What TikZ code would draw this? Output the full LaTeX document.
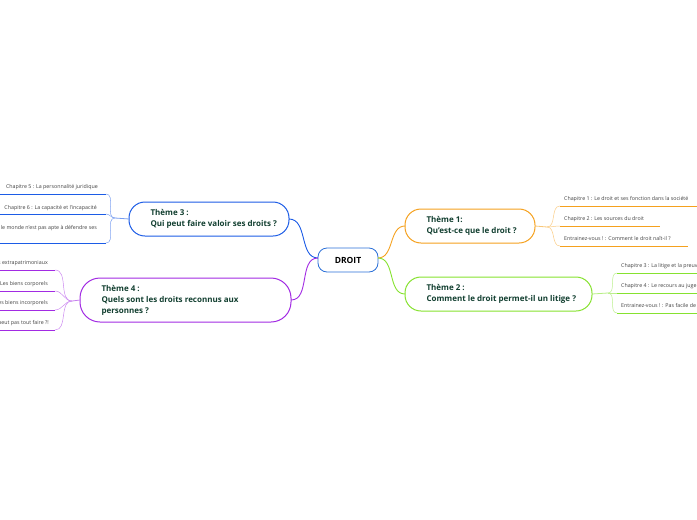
\documentclass[tikz,border=0pt]{standalone}
\usepackage{fontspec}
\setmainfont{Open Sans}
\begin{document}
\begin{tikzpicture}[x=1pt,y=-1pt,
  theme/.style={draw=#1,line width=1pt,rounded corners=16pt,fill=white,inner sep=0pt},
  ttext/.style={anchor=west,align=left,font=\fontsize{8}{11}\selectfont\bfseries,text=tdark},
  leaf/.style={anchor=west,font=\fontsize{5.3}{6}\selectfont,text=black!75,inner sep=0pt},
  lline/.style={draw=#1,line width=1pt},
  conn/.style={draw=#1,line width=0.9pt},
  thin/.style={draw=#1,line width=0.5pt}]
\definecolor{tdark}{HTML}{123F30}
\definecolor{cor}{HTML}{F5A11E}
\definecolor{cgr}{HTML}{86E22F}
\definecolor{cbl}{HTML}{1C5CE6}
\definecolor{cpu}{HTML}{A22BE3}
\definecolor{cdr}{HTML}{2A6FD8}
\useasboundingbox (0,0) rectangle (697,520);
\clip (0,0) rectangle (697,520);
% centre
\draw[theme=cdr,rounded corners=9pt,line width=0.8pt] (318,248) rectangle (378,272);
\node[font=\fontsize{8.5}{10}\selectfont\bfseries,text=black] (droit) at (348,260) {DROIT};
\coordinate (dl) at (318,258); \coordinate (dr) at (378,258);
% themes
\draw[theme=cor] (405,209) rectangle (535,243);
\node[ttext] (t1) at (423,226) {Thème 1:\\Qu'est-ce que le droit ?};
\draw[theme=cgr] (405,277) rectangle (592,311);
\node[ttext] (t2) at (423,294) {Thème 2 :\\Comment le droit permet-il un litige ?};
\draw[theme=cbl] (129,202) rectangle (289,236);
\node[ttext] (t3) at (147,219) {Thème 3 :\\Qui peut faire valoir ses droits ?};
\draw[theme=cpu,rounded corners=20pt] (80,278) rectangle (291,322);
\node[ttext] (t4) at (98,300) {Thème 4 :\\Quels sont les droits reconnus aux\\personnes ?};
\coordinate (t1l) at (405,226); \coordinate (t1r) at (535,226);
\coordinate (t2l) at (405,294); \coordinate (t2r) at (592,294);
\coordinate (t3l) at (129,219); \coordinate (t3r) at (289,219);
\coordinate (t4l) at (80,300); \coordinate (t4r) at (291,300);
\draw[conn=cor] (dr) to[out=0,in=180] (t1l);
\draw[conn=cgr] (dr) to[out=0,in=180] (t2l);
\draw[conn=cbl] (dl) to[out=180,in=0] (t3r);
\draw[conn=cpu] (dl) to[out=180,in=0] (t4r);
% theme 1 leaves
\coordinate (j1) at (547,227);
\draw[thin=cor!60,line width=0.8pt] (t1r) -- (j1);
\foreach \y/\e/\t in {206/697/{Chapitre 1 : Le droit et ses fonction dans la société},226/660/{Chapitre 2 : Les sources du droit},246/688/{Entrainez-vous ! : Comment le droit naît-il ?}}{
  \draw[thin=cor!55] (j1) to[out=0,in=180] (560,\y);
  \draw[lline=cor] (560,\y) -- (\e,\y);
  \node[leaf] at (564,\y-7) {\t};}
% theme 2 leaves
\coordinate (j2) at (608,293);
\draw[thin=cgr!60,line width=0.8pt] (t2r) -- (j2);
\foreach \y/\t in {273/{Chapitre 3 : La litige et la preuve},293/{Chapitre 4 : Le recours au juge},313/{Entrainez-vous ! : Pas facile de juger}}{
  \draw[thin=cgr!55] (j2) to[out=0,in=180] (617,\y);
  \draw[lline=cgr] (617,\y) -- (697,\y);
  \node[leaf] at (621,\y-7) {\t};}
% theme 3 leaves
\coordinate (j3) at (115,218);
\draw[thin=cbl!60,line width=0.8pt] (t3l) -- (j3);
\foreach \y/\t in {194/{Chapitre 5 : La personnalité juridique},214/{Chapitre 6 : La capacité et l'incapacité},243/{Entrainez-vous ! : Tout le monde n'est pas apte à défendre ses}}{
  \draw[thin=cbl!55] (j3) to[out=180,in=0] (106,\y);
  \draw[lline=cbl] (106,\y) -- (0,\y);}
\node[leaf,anchor=east] at (98,187) {Chapitre 5 : La personnalité juridique};
\node[leaf,anchor=east] at (97,208) {Chapitre 6 : La capacité et l'incapacité};
\node[leaf,anchor=east] at (97,228) {Entrainez-vous ! : Tout le monde n'est pas apte à défendre ses};
% theme 4 leaves
\coordinate (j4) at (72,301);
\draw[thin=cpu!60,line width=0.8pt] (t4l) -- (j4);
\foreach \y in {270,291,310,330}{
  \draw[thin=cpu!55] (j4) to[out=180,in=0] (55,\y);
  \draw[lline=cpu] (55,\y) -- (0,\y);}
\node[leaf,anchor=east] at (48,263) {Chapitre 7 : Les droits extrapatrimoniaux};
\node[leaf,anchor=east] at (48,284) {Chapitre 8 : Les biens corporels};
\node[leaf,anchor=east] at (48,303) {Chapitre 9 : Les biens incorporels};
\node[leaf,anchor=east] at (49,323) {Entrainez-vous ! : On ne peut pas tout faire ?!};
\end{tikzpicture}
\end{document}
